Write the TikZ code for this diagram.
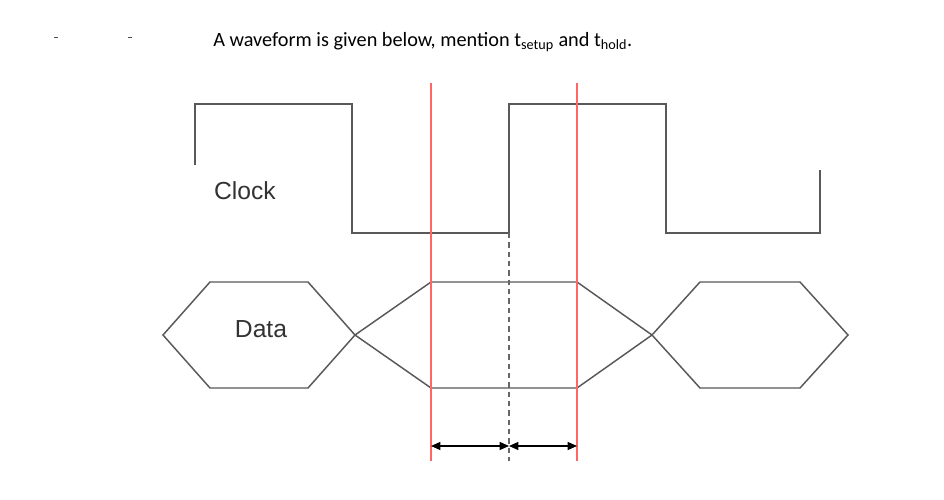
\documentclass[tikz,border=0pt]{standalone}
\usepackage{fontspec}
\setmainfont{Carlito}
\newfontfamily\arialf{Liberation Sans}
\usetikzlibrary{arrows.meta}
\begin{document}
\begin{tikzpicture}[x=0.75pt,y=-0.75pt,
  wave/.style={draw=black!65,line width=1.1pt},
  redline/.style={draw=red!60,line width=1pt},
  dim/.style={draw=black,line width=0.9pt,{Triangle[length=7pt,width=6pt]}-{Triangle[length=7pt,width=6pt]}},
  lbl/.style={font=\arialf\fontsize{18.5}{20}\selectfont,text=black!80}]
\useasboundingbox (0,0) rectangle (944,499);
\fill[white] (0,0) rectangle (944,499);
\node[anchor=west,inner sep=0pt,font=\fontsize{15.2}{18}\selectfont] (title) at (213,42) {A waveform is given below, mention t\textsubscript{setup} and t\textsubscript{hold}.};
\draw[black!70] (54,37) -- (58,37) (128,37) -- (132,37);
% clock
\draw[wave] (195,165) -- (195,104) -- (352,104) -- (352,233) -- (509,233) -- (509,104) -- (666,104) -- (666,233) -- (820,233) -- (820,170);
\node[lbl] (clk) at (245,191) {Clock};
% data
\draw[wave] (163,335) -- (210,282) -- (308,282) -- (355,335) -- (308,388) -- (210,388) -- cycle;
\draw[wave] (355,335) -- (431,282) -- (577,282) -- (652,335) -- (700,388) -- (800,388) -- (848,335) -- (800,282) -- (700,282) -- (652,335) -- (577,388) -- (431,388) -- cycle;
\node[lbl] (data) at (261,329) {Data};
% markers
\coordinate (r1t) at (431,83); \coordinate (r1b) at (431,461);
\coordinate (r2t) at (577,83); \coordinate (r2b) at (577,461);
\coordinate (dt) at (509,233); \coordinate (db) at (509,461);
\draw[black!60,line width=1pt,dash pattern=on 4pt off 3pt] (dt) -- (db);
\draw[redline] (r1t) -- (r1b);
\draw[redline] (r2t) -- (r2b);
\coordinate (a1) at (431,446); \coordinate (a2) at (509,446); \coordinate (a3) at (577,446);
\draw[dim] (a1) -- (a2);
\draw[dim] (a2) -- (a3);
\end{tikzpicture}
\end{document}
